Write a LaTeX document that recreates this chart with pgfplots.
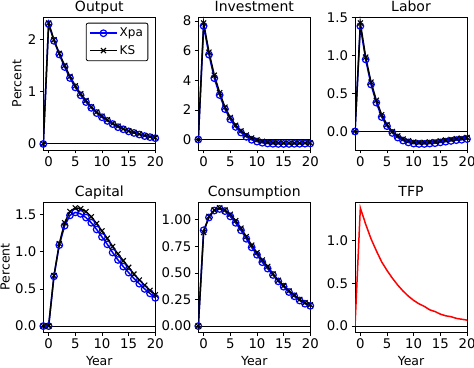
\documentclass[border=0pt]{standalone}
\usepackage{fontspec}
\setmainfont{DejaVu Sans}
\usepackage{pgfplots}
\pgfplotsset{compat=1.18}
\definecolor{mblue}{rgb}{0,0,1}
\definecolor{mred}{rgb}{1,0,0}
\pgfplotsset{
  every axis title shift=0pt,
  panel/.style={
    scale only axis, width=112pt,
    xmin=-1, xmax=20, xtick={0,5,10,15,20},
    enlarge y limits=0.05,
    tick align=outside, tick pos=left,
    major tick length=3.5pt,
    every tick/.style={black, line width=0.7pt},
    axis line style={line width=0.7pt},
    /pgf/number format/assume math mode=true,
    tick label style={font=\fontsize{13.3}{15}\selectfont},
    title style={at={(0.5,1)}, anchor=base, yshift=5pt, font=\fontsize{14}{16}\selectfont},
    ylabel style={anchor=center, font=\fontsize{12.5}{14}\selectfont},
    xlabel style={at={(axis description cs:0.5,0)}, anchor=base, yshift=-33pt, font=\fontsize{12.5}{14}\selectfont},
    legend image code/.code={\draw[mark repeat=2,mark phase=2,#1] plot coordinates {(0pt,0pt)(13.5pt,0pt)(27pt,0pt)};},
  },
  xpa/.style={mblue, line width=1.5pt, mark=o, mark size=3.3pt, mark options={solid, line width=1.2pt}},
  ks/.style={black, line width=1.5pt, mark=x, mark size=3.6pt, mark options={solid, line width=1.1pt}},
  zl/.style={black, line width=1pt, forget plot},
}
\begin{document}
\begin{tikzpicture}
\path[use as bounding box] (0,0) rectangle (474pt,367pt);
% Output
\begin{axis}[panel, height=133pt, at={(43.3pt,217pt)}, anchor=south west,
  title={Output}, ylabel={Percent}, ytick={0,1,2},
  ylabel style={at={(axis description cs:-0.235,0.5)}},
  legend style={at={(axis description cs:0.9375,0.957)}, anchor=north east, draw=black, line width=0.8pt, rounded corners=2pt,
    font=\fontsize{12}{14}\selectfont, inner xsep=3pt, inner ysep=3pt, row sep=3pt},
  legend cell align=left]
\addplot[zl] coordinates {(-1,0)(20,0)};
\addplot[xpa] coordinates {(-1,0)(0,2.29)(1,1.97)(2,1.71)(3,1.47)(4,1.26)(5,1.08)(6,0.93)(7,0.80)(8,0.69)(9,0.59)(10,0.51)(11,0.44)(12,0.38)(13,0.32)(14,0.28)(15,0.24)(16,0.21)(17,0.18)(18,0.15)(19,0.13)(20,0.11)};
\addlegendentry{Xpa}
\addplot[ks] coordinates {(-1,0)(0,2.31)(1,1.99)(2,1.73)(3,1.50)(4,1.29)(5,1.11)(6,0.96)(7,0.83)(8,0.71)(9,0.61)(10,0.53)(11,0.46)(12,0.39)(13,0.34)(14,0.29)(15,0.25)(16,0.22)(17,0.19)(18,0.16)(19,0.14)(20,0.12)};
\addlegendentry{KS}
\end{axis}
% Investment
\begin{axis}[panel, height=133pt, at={(198.3pt,217pt)}, anchor=south west,
  title={Investment}, ytick={0,2,4,6,8}]
\addplot[zl] coordinates {(-1,0)(20,0)};
\addplot[xpa] coordinates {(-1,0)(0,7.66)(1,5.73)(2,4.14)(3,3.0)(4,2.05)(5,1.36)(6,0.85)(7,0.47)(8,0.18)(9,-0.02)(10,-0.14)(11,-0.22)(12,-0.27)(13,-0.29)(14,-0.30)(15,-0.30)(16,-0.30)(17,-0.29)(18,-0.29)(19,-0.28)(20,-0.27)};
\addplot[ks] coordinates {(-1,0)(0,7.86)(1,5.89)(2,4.34)(3,3.16)(4,2.18)(5,1.48)(6,0.96)(7,0.58)(8,0.30)(9,0.10)(10,-0.03)(11,-0.12)(12,-0.18)(13,-0.21)(14,-0.23)(15,-0.24)(16,-0.24)(17,-0.24)(18,-0.24)(19,-0.23)(20,-0.23)};
\end{axis}
% Labor
\begin{axis}[panel, height=133pt, at={(355pt,217pt)}, anchor=south west,
  title={Labor}, ytick={0,0.5,1,1.5},
  yticklabel style={/pgf/number format/.cd, fixed, fixed zerofill, precision=1}]
\addplot[zl] coordinates {(-1,0)(20,0)};
\addplot[xpa] coordinates {(-1,0)(0,1.39)(1,0.95)(2,0.62)(3,0.38)(4,0.19)(5,0.07)(6,-0.02)(7,-0.08)(8,-0.12)(9,-0.145)(10,-0.16)(11,-0.165)(12,-0.165)(13,-0.16)(14,-0.155)(15,-0.145)(16,-0.135)(17,-0.125)(18,-0.115)(19,-0.11)(20,-0.10)};
\addplot[ks] coordinates {(-1,0)(0,1.43)(1,0.98)(2,0.65)(3,0.41)(4,0.22)(5,0.09)(6,0.0)(7,-0.06)(8,-0.10)(9,-0.125)(10,-0.14)(11,-0.145)(12,-0.145)(13,-0.14)(14,-0.135)(15,-0.125)(16,-0.115)(17,-0.105)(18,-0.095)(19,-0.09)(20,-0.08)};
\end{axis}
% Capital
\begin{axis}[panel, height=130pt, at={(43.3pt,35pt)}, anchor=south west,
  title={Capital}, ylabel={Percent}, xlabel={Year}, ytick={0,0.5,1,1.5},
  ylabel style={at={(axis description cs:-0.34,0.5)}},
  yticklabel style={/pgf/number format/.cd, fixed, fixed zerofill, precision=1}]
\addplot[zl] coordinates {(-1,0)(20,0)};
\addplot[xpa] coordinates {(-1,0)(0,0)(1,0.67)(2,1.09)(3,1.35)(4,1.49)(5,1.53)(6,1.51)(7,1.46)(8,1.39)(9,1.30)(10,1.20)(11,1.10)(12,0.99)(13,0.89)(14,0.80)(15,0.72)(16,0.64)(17,0.57)(18,0.50)(19,0.44)(20,0.38)};
\addplot[ks] coordinates {(-1,0)(0,0)(1,0.68)(2,1.11)(3,1.39)(4,1.54)(5,1.59)(6,1.58)(7,1.54)(8,1.47)(9,1.38)(10,1.28)(11,1.18)(12,1.07)(13,0.97)(14,0.88)(15,0.79)(16,0.70)(17,0.62)(18,0.55)(19,0.48)(20,0.42)};
\end{axis}
% Consumption
\begin{axis}[panel, height=130pt, at={(198.3pt,35pt)}, anchor=south west,
  title={Consumption}, xlabel={Year}, ytick={0,0.25,0.5,0.75,1},
  yticklabel style={/pgf/number format/.cd, fixed, fixed zerofill, precision=2}]
\addplot[zl] coordinates {(-1,0)(20,0)};
\addplot[xpa] coordinates {(-1,0)(0,0.90)(1,1.02)(2,1.085)(3,1.10)(4,1.08)(5,1.03)(6,0.97)(7,0.90)(8,0.82)(9,0.74)(10,0.67)(11,0.60)(12,0.54)(13,0.48)(14,0.42)(15,0.37)(16,0.32)(17,0.28)(18,0.24)(19,0.21)(20,0.19)};
\addplot[ks] coordinates {(-1,0)(0,0.88)(1,1.03)(2,1.09)(3,1.11)(4,1.09)(5,1.05)(6,0.99)(7,0.92)(8,0.84)(9,0.76)(10,0.69)(11,0.62)(12,0.56)(13,0.49)(14,0.43)(15,0.38)(16,0.33)(17,0.29)(18,0.25)(19,0.22)(20,0.20)};
\end{axis}
% TFP
\begin{axis}[panel, height=130pt, at={(355pt,35pt)}, anchor=south west,
  title={TFP}, xlabel={Year}, ytick={0,0.5,1},
  yticklabel style={/pgf/number format/.cd, fixed, fixed zerofill, precision=1}]
\addplot[zl] coordinates {(-1,0)(20,0)};
\addplot[mred, line width=1.5pt, no marks] coordinates {(-1,0)(0,1.38)(1,1.19)(2,1.02)(3,0.88)(4,0.75)(5,0.65)(6,0.56)(7,0.48)(8,0.41)(9,0.35)(10,0.30)(11,0.26)(12,0.23)(13,0.19)(14,0.17)(15,0.14)(16,0.12)(17,0.11)(18,0.09)(19,0.08)(20,0.07)};
\end{axis}
\end{tikzpicture}
\end{document}
